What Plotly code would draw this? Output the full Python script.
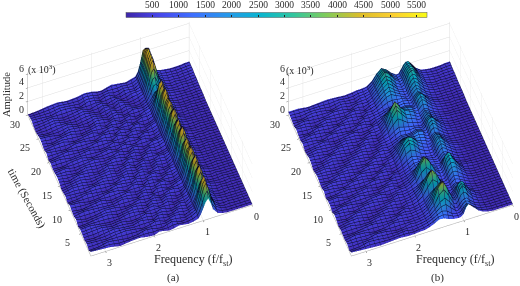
import plotly.graph_objects as go

freq = [0,.1,.2,.3,.4,.5,.6,.7,.8,.85,.9,.95,1,1.05,1.1,1.2,1.3,1.4,1.5,1.6,1.7,1.8,1.9,2,2.15,2.3,2.5,2.7,2.9,3.1,3.3]
time_s = [.3,1.3,2.3,3.3,4.3,5.3,6.3,7.3,8.3,9.3,10.3,11.3,12.3,13.3,14.3,15.3,16.3,17.3,18.3,19.3,20.3,21.3,22.3,23.3,24.3,25.3,26.3,27.3,28.3,30]
# amplitudes, in hundreds
amp_a = [
[1,1,1,1,1,1,2,4,12,22,30,26,18,10,5,3,2,3,4,2,1,3,4,1,2,4,3,1,4,5,6],
[1,1,1,1,1,1,3,7,22,36,46,40,28,16,8,4,2,1,3,5,3,1,2,4,5,2,1,3,5,2,1],
[1,1,1,1,2,1,2,8,24,38,50,44,30,17,7,4,1,4,5,3,1,4,5,3,1,3,5,4,2,3,4],
[1,1,1,1,1,2,3,6,18,30,38,32,20,12,6,2,4,5,2,1,4,5,1,3,5,2,3,5,3,1,2],
[1,1,1,2,1,1,2,9,26,40,52,46,30,16,7,3,5,2,1,4,5,2,3,5,2,1,4,2,5,4,3],
[1,1,1,1,2,1,3,7,20,34,42,36,22,13,6,4,2,1,5,3,2,5,4,1,4,5,2,1,3,5,4],
[1,1,2,1,1,2,4,9,27,42,53,46,31,17,8,2,1,4,5,2,4,5,1,3,5,3,1,5,4,2,1],
[1,1,1,2,1,1,2,7,21,33,41,35,22,12,5,3,5,5,2,1,5,2,3,5,2,1,4,5,2,1,5],
[1,1,1,1,2,1,3,9,28,42,52,45,29,15,7,5,2,1,4,5,1,4,5,1,3,5,2,3,4,5,2],
[1,1,1,1,1,2,4,7,22,34,44,40,26,13,5,2,1,5,5,2,3,5,2,2,5,3,1,5,3,1,3],
[1,1,1,2,1,1,2,8,27,41,51,44,28,14,6,3,5,2,1,4,5,1,4,5,1,4,5,2,1,4,5],
[1,1,1,1,2,1,3,6,19,32,39,34,20,11,5,5,2,1,5,5,2,3,5,2,4,5,1,3,5,2,1],
[1,1,2,1,1,2,2,9,28,43,53,47,30,15,6,2,1,5,3,1,4,5,1,4,5,1,4,5,2,3,4],
[1,1,1,1,2,1,4,7,22,35,43,37,23,12,7,3,4,5,1,3,5,2,3,5,2,3,5,1,4,5,2],
[1,1,1,2,1,1,3,8,26,40,50,43,27,14,6,4,5,2,2,5,3,1,5,4,1,5,3,2,5,3,1],
[1,1,1,1,1,3,2,7,20,33,40,34,21,12,4,2,1,4,5,2,1,5,5,1,3,5,1,4,5,1,4],
[1,1,2,1,2,1,3,9,28,42,52,45,29,15,7,4,3,5,2,1,5,4,1,4,5,2,3,5,1,3,5],
[1,1,1,1,1,2,4,7,21,34,42,36,22,12,6,5,5,2,1,4,5,1,3,5,2,2,5,3,2,5,3],
[1,1,1,2,1,1,2,8,27,41,50,44,28,14,5,2,1,4,5,2,2,5,4,1,5,3,1,5,4,1,2],
[1,1,1,1,2,2,3,7,23,36,46,40,25,13,6,3,4,5,1,3,5,2,2,5,2,1,5,3,2,5,4],
[1,1,2,1,1,1,4,9,28,43,53,46,30,15,7,5,2,1,4,5,1,4,5,1,4,5,2,2,5,3,1],
[1,1,1,1,2,1,2,7,22,35,44,38,24,13,5,2,1,5,5,1,4,5,1,4,5,1,4,5,1,3,5],
[1,1,1,2,1,2,3,9,27,42,52,46,29,14,6,4,5,2,1,5,3,1,5,4,1,5,3,1,5,4,2],
[2,1,2,1,1,1,4,6,17,26,32,28,18,11,7,5,2,1,5,3,1,5,4,1,5,3,1,5,4,1,4],
[2,2,1,2,2,2,3,5,12,18,22,20,14,9,6,3,4,5,2,1,5,4,1,4,5,1,3,5,1,4,5],
[2,2,2,1,2,3,4,7,16,26,34,32,22,13,6,2,1,3,5,2,3,5,2,2,5,3,1,5,3,1,3],
[3,2,2,3,2,2,4,10,28,42,52,46,30,15,7,4,2,1,4,5,1,4,5,1,3,5,2,2,5,3,1],
[3,3,2,2,3,2,4,11,30,45,55,48,30,14,6,5,5,2,1,5,3,1,5,4,1,5,3,1,5,3,2],
[4,3,3,2,3,3,5,10,27,43,56,50,30,14,7,3,4,5,2,1,5,4,1,4,5,1,4,5,2,3,4],
[4,4,3,3,3,4,5,8,20,34,44,42,26,13,7,5,3,4,5,6,4,2,3,5,6,4,3,5,4,2,1],
]
amp_b = [
[1,1,1,1,1,2,4,8,15,19,22,18,10,7,6,7,9,12,13,9,6,4,4,3,3,4,3,2,3,4,5],
[1,1,1,1,1,2,3,6,11,14,16,13,8,6,6,8,14,16,13,9,6,4,3,2,4,3,2,4,5,2,1],
[1,1,1,1,1,1,3,6,12,16,16,14,10,6,7,18,26,22,14,8,5,4,3,4,2,1,4,5,2,3,4],
[1,1,1,1,1,2,4,9,18,24,28,24,15,10,14,30,44,36,18,9,5,3,3,2,4,5,2,1,4,5,2],
[1,1,1,1,2,1,5,10,20,26,28,24,13,9,12,24,36,30,16,8,5,4,3,4,5,2,3,5,3,1,2],
[1,1,1,1,1,2,3,7,12,15,16,14,9,6,7,12,16,20,14,8,5,3,3,5,1,3,5,2,2,5,3],
[1,1,1,1,1,1,3,6,10,11,12,10,7,7,9,18,34,42,30,14,7,4,4,1,3,5,2,1,5,4,1],
[1,1,1,1,2,2,4,8,12,14,15,12,8,7,8,16,26,32,24,12,7,4,3,3,5,3,1,4,5,1,3],
[1,1,1,1,1,2,5,11,18,20,20,17,11,7,7,10,12,16,14,9,6,4,3,5,2,2,5,4,1,4,5],
[1,1,1,1,1,2,5,12,22,26,26,22,13,9,9,16,30,40,30,13,7,4,4,3,1,5,4,1,4,5,1],
[1,1,1,1,2,3,4,9,20,26,28,24,14,9,9,14,26,34,24,11,6,3,1,4,5,2,2,5,3,1,4],
[1,1,1,1,1,1,3,6,11,14,16,13,8,8,9,10,14,16,12,8,5,3,3,5,2,1,5,3,1,5,4],
[1,1,1,1,1,2,3,7,12,14,15,12,8,7,8,10,10,12,12,8,5,3,5,1,3,5,2,2,5,2,1],
[1,1,1,1,2,2,4,9,14,18,20,17,11,7,7,8,9,13,15,11,6,3,1,4,5,1,4,5,1,4,5],
[1,1,1,1,1,3,5,9,16,20,22,19,13,8,8,10,14,22,27,22,10,4,3,5,1,3,5,1,4,5,2],
[1,1,1,1,1,2,4,8,14,18,20,17,11,9,10,13,18,26,30,22,11,5,4,1,4,5,1,4,5,1,3],
[1,1,1,1,2,2,3,7,12,15,16,14,9,10,13,15,16,20,22,16,9,4,2,4,5,1,3,5,2,3,5],
[1,1,1,1,1,3,4,9,16,20,22,19,11,11,15,17,14,14,14,10,6,3,5,5,1,3,5,2,2,5,3],
[1,1,1,1,2,2,5,11,18,22,24,21,13,10,11,13,10,10,11,8,5,4,5,2,2,5,3,1,5,3,1],
[1,1,1,1,1,2,5,9,14,18,20,17,11,8,9,11,12,14,16,12,7,5,3,1,5,4,1,4,5,1,4],
[1,1,1,2,2,3,4,8,12,16,18,15,11,10,12,15,18,26,34,24,11,5,1,4,5,1,4,5,1,4,5],
[1,1,1,1,1,2,4,7,12,15,16,13,11,12,15,19,22,30,40,28,12,5,4,5,1,3,5,2,3,5,2],
[1,1,1,1,2,3,5,9,16,20,22,19,13,12,15,17,18,22,27,20,10,5,5,2,2,5,3,1,5,3,1],
[2,1,2,1,2,3,5,10,18,22,24,21,15,10,11,13,12,12,14,10,7,5,1,4,5,1,3,5,1,4,5],
[2,2,1,2,2,2,4,9,14,18,20,17,13,10,11,13,12,10,10,8,6,5,4,5,1,4,5,1,4,5,2],
[2,2,2,2,2,3,5,9,16,20,22,19,15,10,9,13,16,20,18,12,7,4,5,1,4,5,1,4,5,1,3],
[2,3,2,2,3,3,6,11,20,24,26,23,17,10,10,13,18,24,20,14,7,5,1,4,5,2,3,5,1,4,5],
[3,2,2,3,2,3,6,13,23,28,30,27,19,12,10,13,22,28,22,14,8,4,4,5,1,4,5,2,3,5,2],
[3,3,3,2,3,4,6,13,24,28,28,25,19,12,11,17,26,32,24,14,7,5,5,2,3,5,1,4,5,1,3],
[4,4,3,3,3,4,6,11,20,24,24,21,15,10,10,15,22,26,20,11,6,5,5,4,3,4,5,4,3,5,5],
]
z_ticks = [0,2000,4000,6000]
z_tick_text = ["0","2","4","6"]
time_ticks = [5,10,15,20,25,30]
freq_ticks = [0,1,2,3]
cbar_ticks = [500,1000,1500,2000,2500,3000,3500,4000,4500,5000,5500]

parula = [(.2422,.1504,.6603),(.2803,.2782,.9221),(.2440,.4358,.9988),(.1540,.5902,.9218),(.0297,.7082,.8163),
          (.1938,.7758,.6251),(.5044,.7993,.3480),(.8634,.7406,.1596),(.9892,.8136,.1885),(.9769,.9839,.0805)]
scale = [[i/(len(parula)-1), "rgb(%d,%d,%d)" % tuple(round(c*255) for c in rgb)] for i, rgb in enumerate(parula)]
SERIF = "Liberation Serif"
INK = "#2b2b2b"
GRID = "#dedede"
CMIN, CMAX = 0, 5700
F_END, T_END = 3.3, 30

def hundreds(rows):
    return [[v*100 for v in r] for r in rows]

def surface(z, scene, show):
    return go.Surface(
        x=freq, y=time_s, z=hundreds(z), scene=scene,
        colorscale=scale, cmin=CMIN, cmax=CMAX, showscale=show,
        lighting=dict(ambient=.6, diffuse=.42, specular=0, roughness=1),
        lightposition=dict(x=-1000, y=-2000, z=4000),
        contours=dict(
            x=dict(show=True, start=0, end=3.3, size=.1, color="#1c1c60", width=1),
            y=dict(show=True, start=.3, end=30, size=.5, color="#050518", width=1),
        ),
        colorbar=dict(orientation="h", x=276.5/520, xanchor="center", y=1-20/286, yanchor="bottom",
                      len=301/520, thickness=5, outlinewidth=.5, outlinecolor="#555",
                      tickvals=cbar_ticks, ticks="inside", ticklen=2, tickcolor="#222",
                      showticklabels=False, xpad=0, ypad=0),
    )

def axis(vals, rng):
    return dict(title="", tickvals=vals, range=rng, showticklabels=False, showbackground=False,
                showgrid=True, gridcolor=GRID, gridwidth=1, zeroline=False, showline=True,
                linecolor="#aaa", linewidth=1, ticks="outside", ticklen=2, tickcolor="#777", showspikes=False)

def tick_note(text, x, y, z, dx, dy):
    return dict(text=text, x=x, y=y, z=z, showarrow=False, xshift=dx, yshift=dy,
                xanchor="center", yanchor="middle", font=dict(family=SERIF, size=10, color=INK))

def scene(dom):
    k = 2.0
    notes = [tick_note(t, F_END, T_END, v, -6, 6) for v, t in zip(z_ticks, z_tick_text)]
    notes += [tick_note(str(v), F_END, v, 0, -13, -9) for v in time_ticks]
    notes += [tick_note(str(v), v, time_s[0], 0, 4, -11) for v in freq_ticks]
    return dict(
        domain=dict(x=dom, y=[.028,1]),
        xaxis=axis(freq_ticks, [F_END,0]),
        yaxis=axis(time_ticks, [.3,T_END]),
        zaxis=axis(z_ticks, [0,6200]),
        aspectmode="manual", aspectratio=dict(x=1.24,y=1.29,z=.56),
        bgcolor="white", annotations=notes,
        camera=dict(projection=dict(type="orthographic"),
                    eye=dict(x=-.191*k,y=-.508*k,z=.84*k),
                    up=dict(x=0,y=0,z=1), center=dict(x=0,y=0,z=0)),
    )

fig = go.Figure([surface(amp_a,"scene",True), surface(amp_b,"scene2",False)])
anns = []
def note(t,x,y,size=10.5,angle=0):
    anns.append(dict(text=t,x=x/520,y=1-y/286,xref="paper",yref="paper",showarrow=False,
                     xanchor="center",yanchor="middle",textangle=angle,
                     font=dict(family=SERIF,size=size,color=INK)))
for v in cbar_ticks:
    note(str(v),126+(v-CMIN)/(CMAX-CMIN)*301,5,size=9.5)
note("Amplitude",6,95,size=10.5,angle=-90)
note("(x 10<sup>3</sup>)",42,69,size=10)
note("(x 10<sup>3</sup>)",300,70,size=10)
note("time (Seconds)",27,198,size=11,angle=61)
note("Frequency (f/f<sub>st</sub>)",193,260,size=12)
note("Frequency (f/f<sub>st</sub>)",455,260,size=12)
note("(a)",173,277,size=11)
note("(b)",437,277,size=11)
fig.update_layout(width=520,height=286,margin=dict(l=0,r=0,t=0,b=0,autoexpand=False),paper_bgcolor="white",
                  scene=scene([0,.5385]),scene2=scene([.54,1]),annotations=anns,showlegend=False)
fig.write_html("out.html", config={"displayModeBar":False},
               post_script="document.body.style.margin='0';document.documentElement.style.overflow='hidden';")
